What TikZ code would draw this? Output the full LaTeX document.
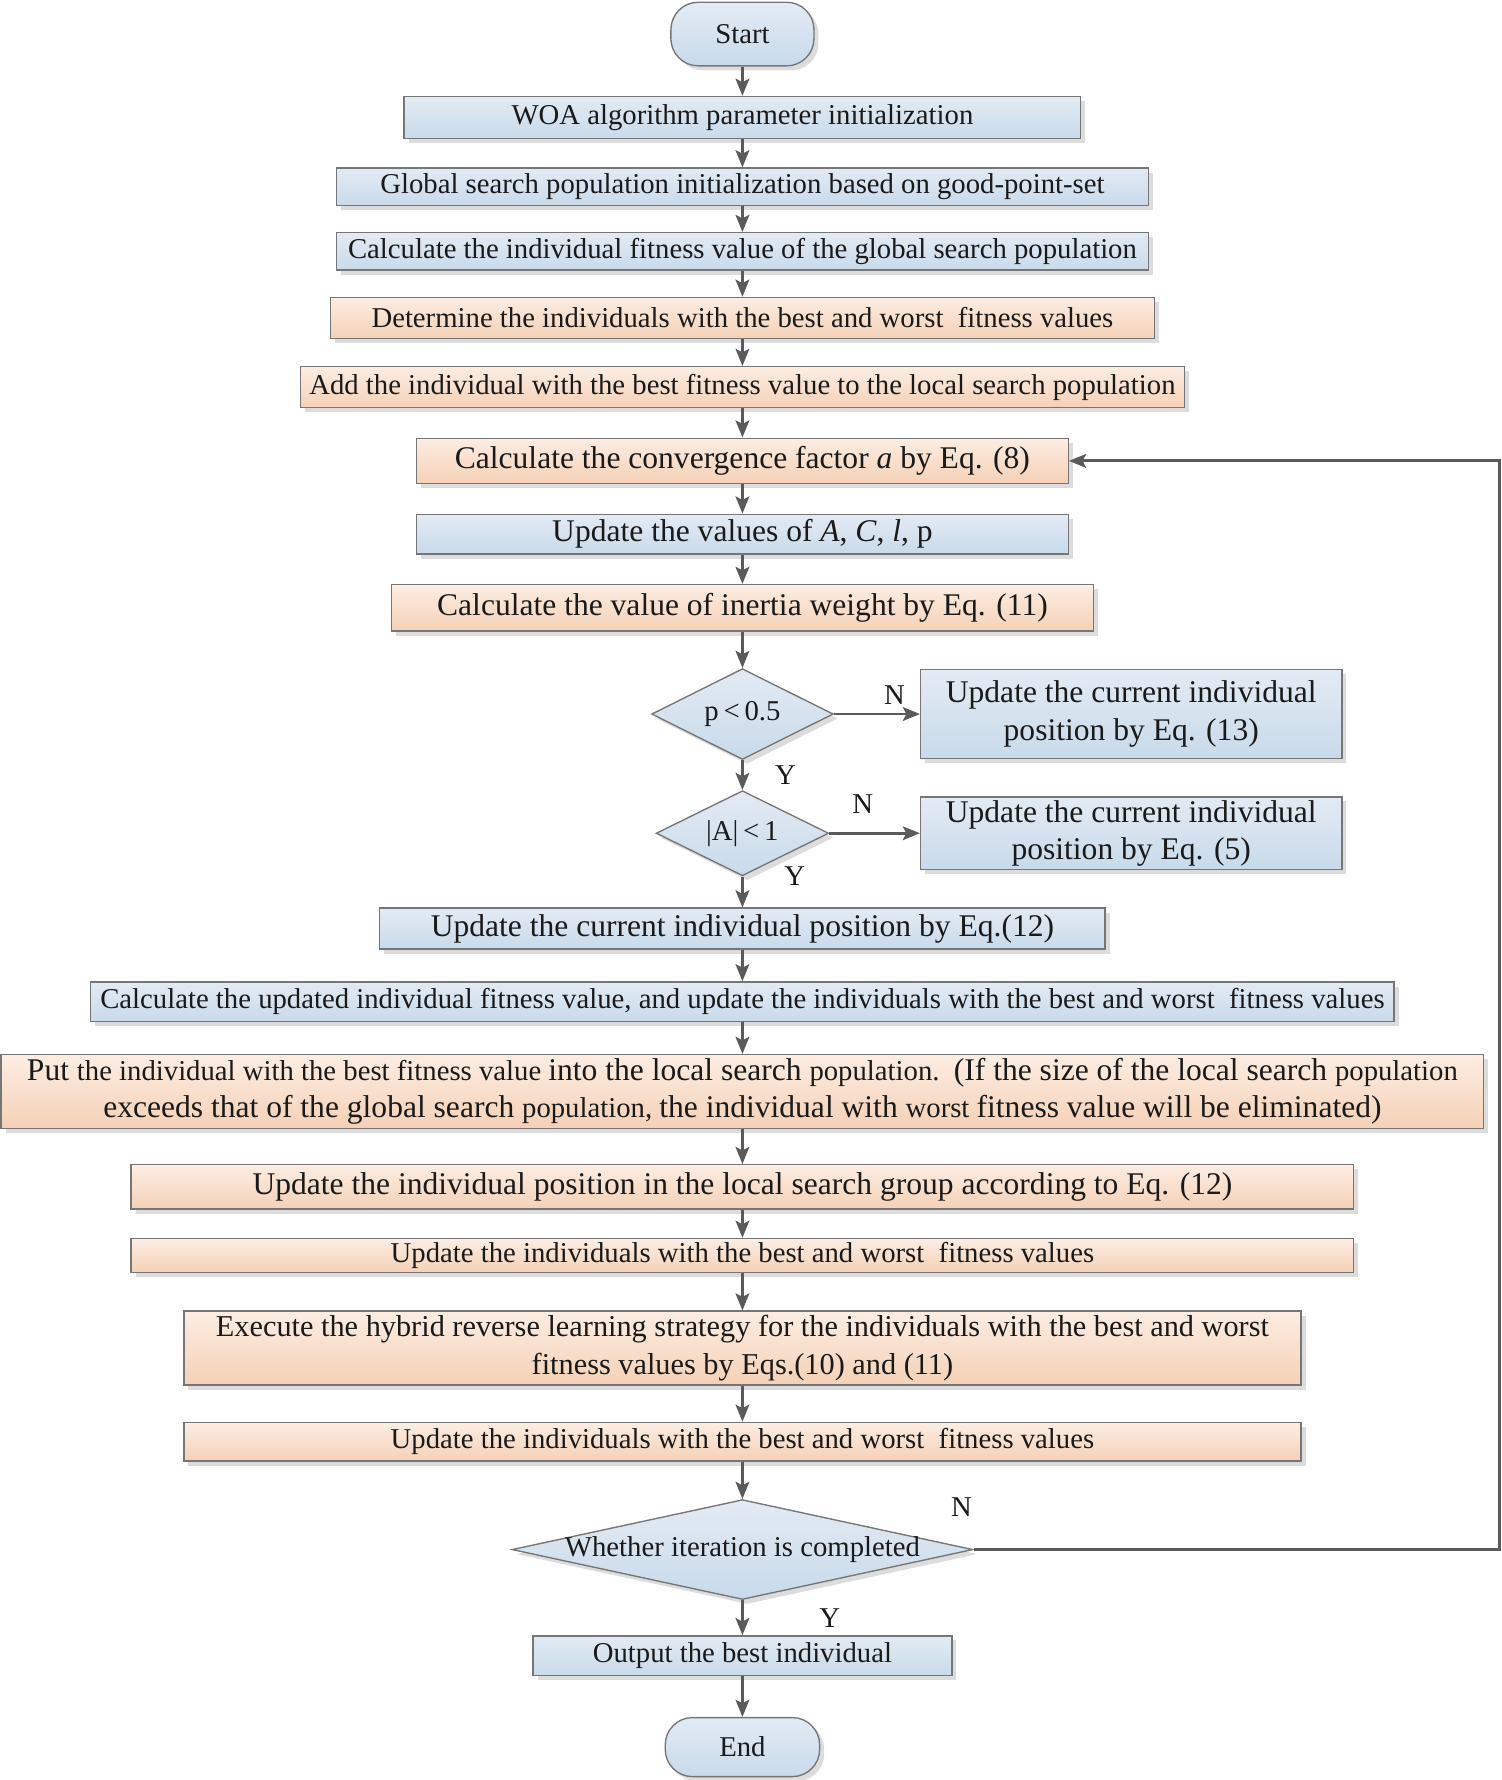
\documentclass[tikz,border=0pt]{standalone}
\usepackage{fontspec}
\setmainfont{Liberation Serif}
\usetikzlibrary{shapes.geometric,shadows,arrows.meta}
\definecolor{bluetop}{HTML}{E3EBF4}
\definecolor{bluebot}{HTML}{C8DAEA}
\definecolor{ortop}{HTML}{FCEDE3}
\definecolor{orbot}{HTML}{F5D1B6}
\definecolor{bord}{HTML}{767676}
\definecolor{arrc}{HTML}{5A5A5A}
\definecolor{txt}{HTML}{1A1A1A}
\definecolor{shad}{HTML}{DCDCDC}
\newcommand\fs{\fontsize{25.3bp}{33bp}\selectfont}
\newcommand\fl{\fontsize{27.8bp}{33bp}\selectfont}
\newcommand\fm{\fontsize{26.7bp}{33bp}\selectfont}
\begin{document}
\begin{tikzpicture}[x=1bp,y=-1bp,
 base/.style={draw=bord, line width=1.2bp, inner sep=0pt, text=txt, align=center, font=\fs,
   drop shadow={shadow xshift=4bp, shadow yshift=-4bp, fill=shad, opacity=1}},
 bbox/.style={base, rectangle, top color=bluetop, bottom color=bluebot},
 obox/.style={base, rectangle, top color=ortop, bottom color=orbot},
 term/.style={bbox, rounded corners=24bp},
 dia/.style={base, diamond, top color=bluetop, bottom color=bluebot, aspect=2},
 arr/.style={draw=arrc, line width=2.5bp, -{Stealth[length=15bp,width=12bp,inset=3bp]}},
 lab/.style={text=txt, font=\fs, inner sep=0pt}
]
\useasboundingbox (0,0) rectangle (1323,1568);

\node[term, minimum width=126bp, minimum height=56bp] (start) at (654,30) {Start};
\node[bbox, minimum width=596bp, minimum height=37bp] (woa) at (654,103.5) {WOA algorithm parameter initialization};
\node[bbox, minimum width=715bp, minimum height=33bp] (glob) at (654,164.5) {Global search population initialization based on good-point-set};
\node[bbox, minimum width=715bp, minimum height=33bp] (fit) at (654,221.5) {Calculate the individual fitness value of the global search population};
\node[obox, minimum width=726bp, minimum height=36bp] (det) at (654,280) {Determine the individuals with the best and worst\ \ fitness values};
\node[obox, minimum width=779bp, minimum height=36bp] (add) at (654,341) {Add the individual with the best fitness value to the local search population};
\node[obox, font=\fl, minimum width=574bp, minimum height=40bp] (conv) at (654,406) {Calculate the convergence factor \textit{a} by Eq. (8)};
\node[bbox, font=\fl, minimum width=574bp, minimum height=35bp] (upd) at (654,470.5) {Update the values of \textit{A}, \textit{C}, \textit{l}, p};
\node[obox, font=\fl, minimum width=618bp, minimum height=41bp] (inert) at (654,535.5) {Calculate the value of inertia weight by Eq. (11)};
\node[dia, minimum width=160bp, minimum height=80bp, label={[lab]center:p\,<\,0.5}] (d1) at (654,629) {};
\node[bbox, font=\fl, minimum width=371bp, minimum height=78bp] (e13) at (996.5,629) {Update the current individual\\position by Eq. (13)};
\node[dia, minimum width=152bp, minimum height=75bp, label={[lab]center:|A|\,<\,1}] (d2) at (654,734) {};
\node[bbox, font=\fl, minimum width=371bp, minimum height=64bp] (e5) at (996.5,734) {Update the current individual\\position by Eq. (5)};
\node[bbox, font=\fl, minimum width=639bp, minimum height=36bp] (u12) at (654,818) {Update the current individual position by Eq.(12)};
\node[bbox, minimum width=1148bp, minimum height=35bp] (cupd) at (654,882.5) {Calculate the updated individual fitness value, and update the individuals with the best and worst\ \ fitness values};
\node[obox, minimum width=1306bp, minimum height=65bp] (put) at (654,961.5) {\fl Put \fs the individual with the best fitness value \fl into the local search \fs population.\ \ \fl(If the size of the local search \fs population\\\fl exceeds that of the global search \fs population, \fl the individual with \fs worst \fl fitness value will be eliminated)};
\node[obox, font=\fl, minimum width=1077bp, minimum height=39bp] (loc) at (654,1045.5) {Update the individual position in the local search group according to Eq. (12)};
\node[obox, minimum width=1077bp, minimum height=30bp] (ubw1) at (654,1106) {Update the individuals with the best and worst\ \ fitness values};
\node[obox, font=\fm, minimum width=984bp, minimum height=65bp] (exe) at (654,1187.5) {Execute the hybrid reverse learning strategy for the individuals with the best and worst\\fitness values by Eqs.(10) and (11)};
\node[obox, minimum width=984bp, minimum height=34bp] (ubw2) at (654,1270) {Update the individuals with the best and worst\ \ fitness values};
\node[dia, minimum width=406bp, minimum height=88bp, label={[lab]center:Whether iteration is completed}] (d3) at (654,1365) {};
\node[bbox, minimum width=369bp, minimum height=35bp] (out) at (654,1458.5) {Output the best individual};
\node[term, minimum width=136bp, minimum height=52bp] (end) at (654,1539) {End};

\node[lab] (n1) at (788,612) {N};
\node[lab] (y1) at (692,683) {Y};
\node[lab] (n2) at (760,708) {N};
\node[lab] (y2) at (700,772) {Y};
\node[lab] (n3) at (847,1328) {N};
\node[lab] (y3) at (731,1425) {Y};

\foreach \a/\b in {start/woa, woa/glob, glob/fit, fit/det, det/add, add/conv, conv/upd, upd/inert, inert/d1, d1/d2, d2/u12, u12/cupd, cupd/put, put/loc, loc/ubw1, ubw1/exe, exe/ubw2, ubw2/d3, d3/out, out/end}
  \draw[arr] (\a) -- (\b);
\draw[arr] (d1) -- (e13);
\draw[arr] (d2) -- (e5);
\coordinate (lp) at (1321,1365);
\draw[arr] (d3.east) -- (lp) |- (conv.east);
\end{tikzpicture}
\end{document}
